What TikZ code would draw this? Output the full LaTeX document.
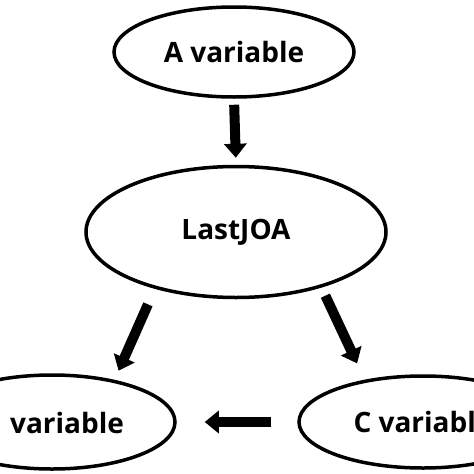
\documentclass[tikz,border=0pt]{standalone}
\usepackage{fontspec}
\setmainfont{Open Sans}
\usetikzlibrary{arrows.meta,shapes.geometric}
\tikzset{
  ell/.style={ellipse, draw=black, line width=3.5pt, inner sep=0pt, font=\bfseries\fontsize{28}{32}\selectfont},
  lab/.style={inner sep=0pt, font=\bfseries\fontsize{28}{32}\selectfont},
  arr/.style={line width=10pt, -{Triangle[width=22pt,length=14pt]}}
}
\begin{document}
\begin{tikzpicture}[x=1pt,y=-1pt]
\useasboundingbox (0,0) rectangle (474,474);
\node[ell, minimum width=240pt, minimum height=90pt] (a) at (234,52) {A variable};
\node[ell, minimum width=300pt, minimum height=131pt] (j) at (236,232) {LastJOA};
\node[ell, minimum width=246pt, minimum height=94pt] (l) at (52,422) {};
\node[lab] (lt) at (67,423) {variable};
\node[ell, minimum width=248pt, minimum height=92pt] (c) at (423,422) {C variable};
\draw[arr, shorten <=6pt, shorten >=7pt] (a.south) -- (j.north);
\draw[arr, shorten <=17pt, shorten >=10pt] (j.215) -- (l.34);
\draw[arr, shorten <=9pt, shorten >=18pt] (j.327) -- (c.144);
\draw[arr, shorten <=26pt, shorten >=28pt] (c.west) -- (l.east);
\end{tikzpicture}
\end{document}
